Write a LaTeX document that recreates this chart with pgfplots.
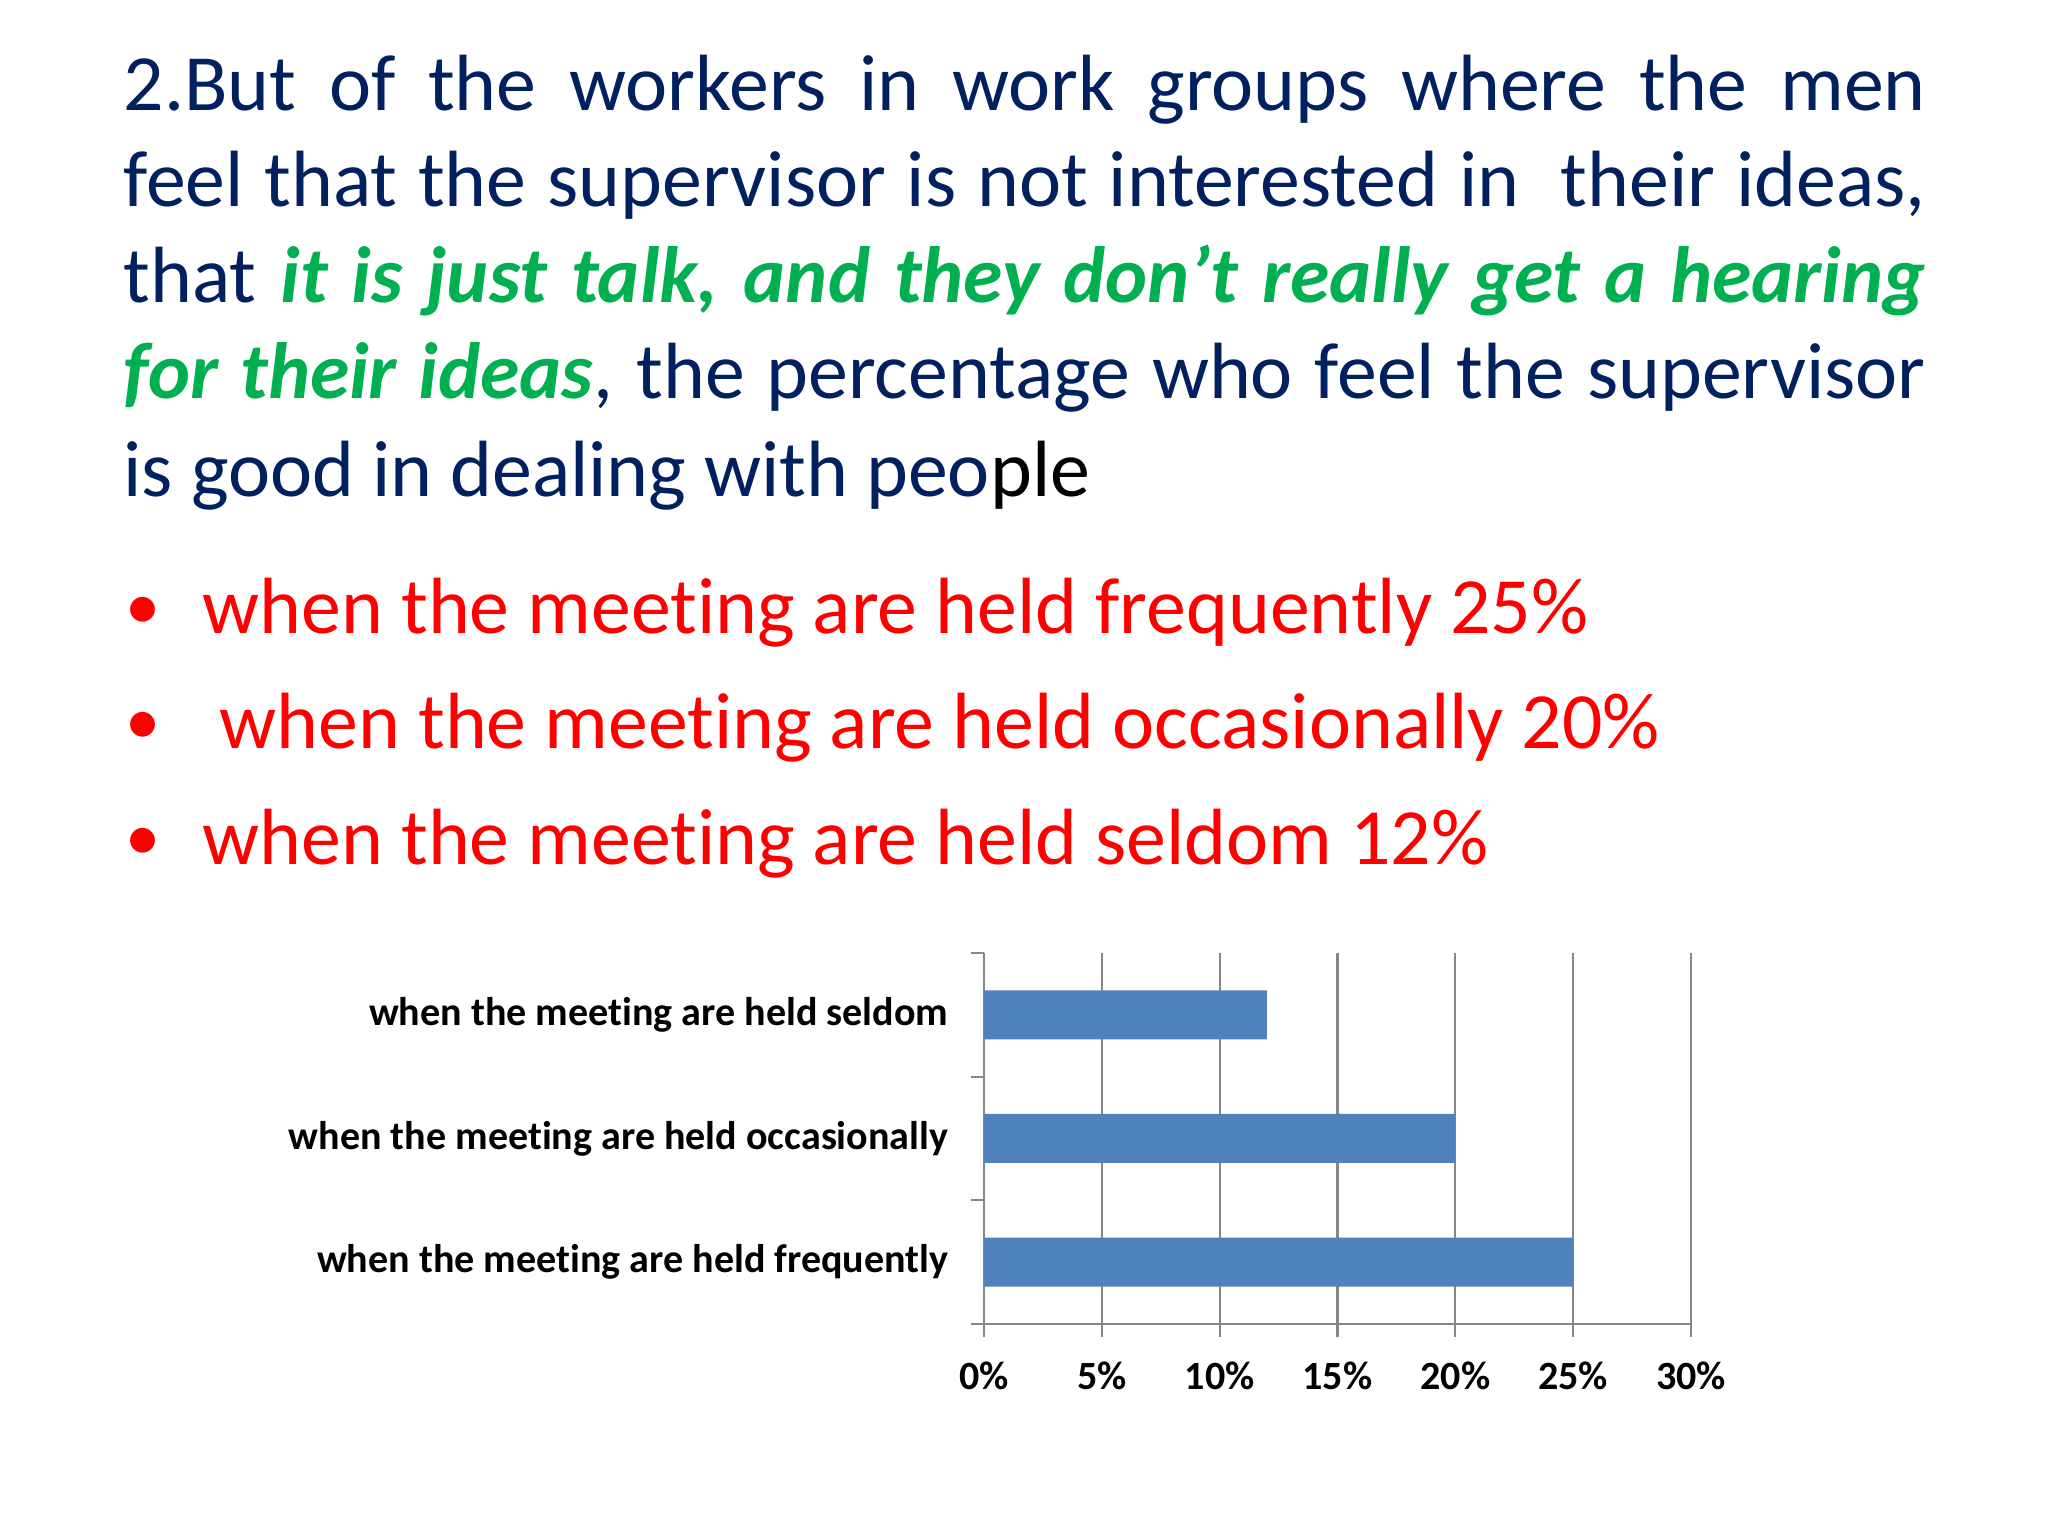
\documentclass[border=0pt]{standalone}
\usepackage{fontspec}
\setmainfont{Carlito}[Ligatures=NoCommon]
\usepackage{pgfplots}
\pgfplotsset{compat=1.18}

\definecolor{navy}{HTML}{002060}
\definecolor{pptgreen}{HTML}{00B050}
\definecolor{barblue}{HTML}{4F81BD}
\definecolor{gridgray}{HTML}{868686}

\newcommand{\parafont}{\fontsize{22.7}{27}\selectfont}
\newcommand{\bulletfont}{\fontsize{22.7}{27}\selectfont}
\newcommand{\dotfont}{\fontsize{20}{22}\selectfont}
% break the t-i ligature of Carlito
\newcommand{\meeting}{meet\kern0pt ing}

\begin{document}
\begin{tikzpicture}
\fill[white] (0,0) rectangle (20.48,15.36);

% paragraph, one node per line
\begin{scope}[every node/.style={anchor=base west, inner sep=0pt, text=navy, font=\parafont}]
\node at (1.23,14.25) {\makebox[18.02cm][s]{2.But of the workers in work groups where the men}};
\node at (1.23,13.29) {\makebox[18.02cm][s]{feel that the supervisor is not interested in\ \ their ideas,}};
\node at (1.23,12.33) {\makebox[18.02cm][s]{that \textcolor{pptgreen}{\textbf{\textit{it is just talk, and they don’t really get a hearing}}}}};
\node at (1.23,11.37) {\makebox[18.02cm][s]{\textcolor{pptgreen}{\textbf{\textit{for their ideas}}}, the percentage who feel the supervisor}};
\node at (1.23,10.39) {is good in dealing with peo\textcolor{black}{ple}};
\end{scope}

% bullets
\begin{scope}[every node/.style={anchor=base west, inner sep=0pt, text=red, font=\bulletfont}]
\node[font=\dotfont] at (1.25,9.06) {•};
\node at (2.02,9.02) {when the \meeting{} are held frequently 25\%};
\node[font=\dotfont] at (1.25,7.91) {•};
\node at (2.19,7.87) {when the \meeting{} are held occasionally 20\%};
\node[font=\dotfont] at (1.25,6.75) {•};
\node at (2.02,6.71) {when the \meeting{} are held seldom 12\%};
\end{scope}

\begin{axis}[
    at={(9.84cm,2.12cm)}, anchor=south west,
    scale only axis,
    width=7.07cm, height=3.71cm,
    xbar, bar width=0.49cm,
    xmin=0, xmax=30,
    ymin=-0.5, ymax=2.5,
    xtick={0,5,10,15,20,25,30},
    xticklabels={0\%,5\%,10\%,15\%,20\%,25\%,30\%},
    ytick={-0.5,0.5,1.5,2.5},
    yticklabels={},
    extra y ticks={0,1,2},
    extra y tick labels={when the \meeting{} are held frequently,when the \meeting{} are held occasionally,when the \meeting{} are held seldom},
    extra y tick style={major tick length=0pt, yticklabel style={anchor=east, inner sep=0pt, xshift=-0.35cm}},
    axis x line*=bottom, axis y line*=left,
    axis line style={gridgray, line width=0.6pt},
    xmajorgrids, grid style={gridgray, line width=0.6pt},
    tick align=outside, major tick length=0.13cm,
    tick style={gridgray, line width=0.6pt},
    ticklabel style={font=\fontsize{11.4}{13}\selectfont\bfseries, text=black},
    xticklabel style={anchor=base, yshift=-0.53cm},
]
\addplot[fill=barblue, draw=none] coordinates {(25,0) (20,1) (12,2)};
\end{axis}
\end{tikzpicture}
\end{document}
